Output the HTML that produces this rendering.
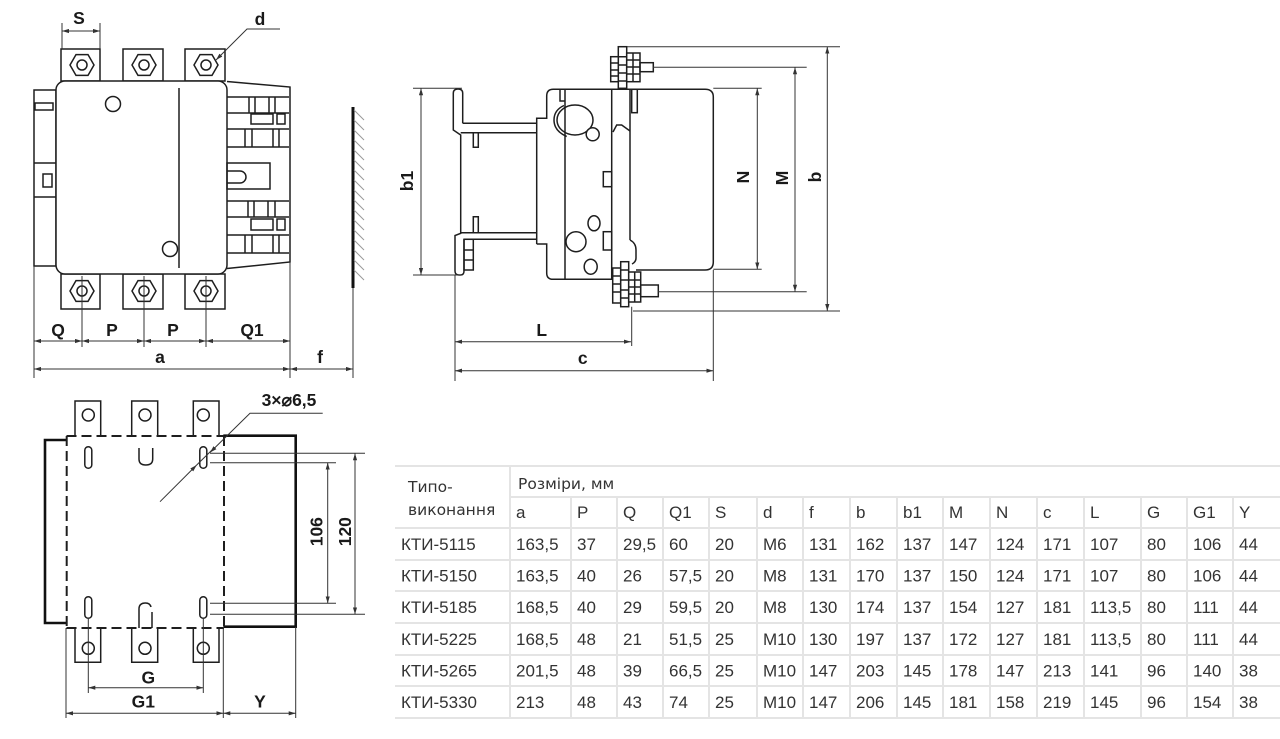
<!DOCTYPE html>
<html><head><meta charset="utf-8"><style>
html,body{margin:0;padding:0;background:#fff;}
svg{display:block;}
.o{stroke:#1e1e1e;stroke-width:1.5;fill:none;}
.t{stroke:#333;stroke-width:1;fill:none;}
.lb{font-family:"Liberation Sans",Arial,sans-serif;font-weight:bold;font-size:17.5px;fill:#1a1a1a;text-anchor:middle;}
.tb{font-family:"Liberation Sans","Noto Sans CJK SC",sans-serif;font-size:17px;fill:#333;}
.th{font-family:"DejaVu Sans","Liberation Sans",sans-serif;font-size:15.5px;fill:#333;}
.g{stroke:#e4e4e4;stroke-width:2;}
</style></head><body>
<svg width="1280" height="739" viewBox="0 0 1280 739" xmlns="http://www.w3.org/2000/svg">
<defs>
<marker id="a" viewBox="0 0 10 6" refX="10" refY="3" markerWidth="7" markerHeight="4.5" markerUnits="userSpaceOnUse" orient="auto-start-reverse"><path d="M0,0 L10,3 L0,6 z" fill="#333"/></marker>
</defs>

<!-- ============ TOP VIEW ============ -->
<g class="o">
 <rect x="61" y="49" width="39" height="32"/>
 <rect x="123" y="49" width="40" height="32"/>
 <rect x="185" y="49" width="40" height="32"/>
 <polygon points="70,65 76,54.6 88,54.6 94,65 88,75.4 76,75.4"/>
 <polygon points="132,65 138,54.6 150,54.6 156,65 150,75.4 138,75.4"/>
 <polygon points="194,65 200,54.6 212,54.6 218,65 212,75.4 200,75.4"/>
 <circle cx="82" cy="65" r="5"/><circle cx="144" cy="65" r="5"/><circle cx="206" cy="65" r="5"/>
 <rect x="61" y="274" width="39" height="35"/>
 <rect x="123" y="274" width="40" height="35"/>
 <rect x="185" y="274" width="40" height="35"/>
 <polygon points="70,291 76,280.6 88,280.6 94,291 88,301.4 76,301.4"/>
 <polygon points="132,291 138,280.6 150,280.6 156,291 150,301.4 138,301.4"/>
 <polygon points="194,291 200,280.6 212,280.6 218,291 212,301.4 200,301.4"/>
 <circle cx="82" cy="291" r="5"/><circle cx="144" cy="291" r="5"/><circle cx="206" cy="291" r="5"/>
 <rect x="34" y="90" width="22" height="176"/>
 <line x1="34" y1="163" x2="56" y2="163"/><line x1="34" y1="197" x2="56" y2="197"/>
 <rect x="35" y="103" width="18" height="7"/>
 <rect x="43" y="174" width="9" height="13"/>
 <rect x="56" y="81" width="171" height="193" rx="9" fill="#fff"/>
 <circle cx="113" cy="104" r="7.5"/><circle cx="170" cy="249" r="7.5"/>
 <line x1="179" y1="88" x2="179" y2="268"/>
 <path d="M227,81.5 L290,87 L290,262 L227,268.5"/>
 <path d="M227,97 H289 M227,113 H289 M227,129 H289 M227,147 H289 M227,201 H289 M227,217 H289 M227,235 H289 M227,253 H289"/>
 <path d="M249,97 V113 M255,97 V113 M269,97 V113 M275,97 V113"/>
 <rect x="251" y="114" width="22" height="10"/><rect x="277" y="114" width="8" height="10"/>
 <path d="M245,129 V147 M252,129 V147 M273,129 V147 M279,129 V147"/>
 <rect x="227" y="163" width="43" height="26"/>
 <path d="M227,171 H240 A6,6 0 0 1 240,183 H227"/>
 <path d="M248,201 V217 M254,201 V217 M268,201 V217 M275,201 V217"/>
 <rect x="251" y="219" width="22" height="11"/><rect x="277" y="219" width="8" height="11"/>
 <path d="M245,235 V253 M252,235 V253 M273,235 V253 M279,235 V253"/>
</g>
<line x1="353" y1="107" x2="353" y2="288" stroke="#111" stroke-width="3"/>
<g stroke="#999" stroke-width="1">
 <path d="M354,110 l10,10 M354,120 l10,10 M354,130 l10,10 M354,140 l10,10 M354,150 l10,10 M354,160 l10,10 M354,170 l10,10 M354,180 l10,10 M354,190 l10,10 M354,200 l10,10 M354,210 l10,10 M354,220 l10,10 M354,230 l10,10 M354,240 l10,10 M354,250 l10,10 M354,260 l10,10 M354,270 l10,10"/>
</g>
<g class="t">
 <path d="M62,23 V49 M100,23 V49"/>
 <line x1="62" y1="31" x2="100" y2="31" marker-start="url(#a)" marker-end="url(#a)"/>
 <path d="M280,29 H247 L216,60" marker-end="url(#a)"/>
 <path d="M34,266 V378 M290,262 V378 M353,288 V378 M82,276 V347 M144,276 V347 M206,276 V347"/>
 <line x1="34" y1="341" x2="82" y2="341" marker-start="url(#a)" marker-end="url(#a)"/>
 <line x1="82" y1="341" x2="144" y2="341" marker-start="url(#a)" marker-end="url(#a)"/>
 <line x1="144" y1="341" x2="206" y2="341" marker-start="url(#a)" marker-end="url(#a)"/>
 <line x1="206" y1="341" x2="290" y2="341" marker-start="url(#a)" marker-end="url(#a)"/>
 <line x1="34" y1="369" x2="290" y2="369" marker-start="url(#a)" marker-end="url(#a)"/>
 <line x1="290" y1="369" x2="353" y2="369" marker-start="url(#a)" marker-end="url(#a)"/>
</g>
<text class="lb" x="79" y="24">S</text>
<text class="lb" x="260" y="25">d</text>
<text class="lb" x="58" y="336">Q</text>
<text class="lb" x="112" y="336">P</text>
<text class="lb" x="173" y="336">P</text>
<text class="lb" x="252" y="336">Q1</text>
<text class="lb" x="160" y="363">a</text>
<text class="lb" x="320" y="363">f</text>

<!-- ============ SIDE VIEW ============ -->
<g class="o">
 <path d="M462.7,123.3 V93 Q462.7,89 458,89 Q453.3,89 453.3,93 V130 L460.7,135 V233.3 L455,235.5 V271 Q455,275 459,275 H460.5 Q464,275 464,271 V239.3"/>
 <rect x="464" y="239.3" width="9.3" height="30.7"/>
 <path d="M464,250 H473.3 M464,260 H473.3"/>
 <path d="M462.7,123.3 H536.7 M460.7,132.7 H536.7 M460.7,232.7 H536.7 M464,239.3 H536.7"/>
 <path d="M473.3,132.7 V147.3 H478.3 V132.7 M473.3,232.7 V216.7 H478.3 V232.7"/>
 <path d="M536.7,244 V118.3 H546.7 V96 Q546.7,89.3 553.3,89.3 H705 Q713.3,89.3 713.3,97 V262 Q713.3,270 705,270 H636"/>
 <path d="M536.7,244 H546.7 V273 Q546.7,279.3 553,279.3 H612"/>
 <path d="M565,89.3 V279.3 M611.7,89.3 V279.3 M630,89.3 V240"/>
 <path d="M560,89.3 V101 H565"/>
 <rect x="631.7" y="89.3" width="5.6" height="23.4"/>
 <path d="M613,132 L616.7,125 H621.7 L630,131"/>
 <path d="M630,240 Q636,243 636,250 V258 Q636,262 632,264"/>
 <rect x="603.3" y="171.7" width="8.4" height="15"/>
 <rect x="603.3" y="231.7" width="8.4" height="18.3"/>
 <ellipse cx="575" cy="120" rx="18" ry="15"/>
 <path d="M564,105.5 Q554,110 554,120 Q554,131 566.7,136.5"/>
 <circle cx="592.7" cy="134.3" r="6.5" fill="#fff"/>
 <ellipse cx="594" cy="223.3" rx="6" ry="7.5"/>
 <circle cx="576" cy="241.7" r="10"/>
 <ellipse cx="590.7" cy="266.7" rx="6.5" ry="7.5"/>
 <rect x="618.3" y="46.7" width="8.4" height="41.6" fill="#fff"/>
 <rect x="610.7" y="56.7" width="7.6" height="25" fill="#fff"/>
 <path d="M610.7,63 H618.3 M610.7,70 H618.3 M610.7,76 H618.3 M618.3,56.7 H626.7 M618.3,65 H626.7 M618.3,73 H626.7 M618.3,81 H626.7"/>
 <rect x="626.7" y="53" width="13.3" height="28.7" fill="#fff"/>
 <path d="M626.7,60 H640 M626.7,67 H640 M626.7,74 H640 M633,53 V81.7"/>
 <rect x="640" y="62.7" width="13.3" height="9"/>
 <rect x="612.7" y="268" width="8" height="35" fill="#fff"/>
 <rect x="620.7" y="261.7" width="8" height="45" fill="#fff"/>
 <rect x="628.7" y="272" width="12" height="30" fill="#fff"/>
 <path d="M612.7,276 H620.7 M612.7,284 H620.7 M612.7,292 H620.7 M620.7,270 H628.7 M620.7,280 H628.7 M620.7,290 H628.7 M620.7,298 H628.7 M628.7,280 H640.7 M628.7,287 H640.7 M628.7,294 H640.7 M634.7,272 V302"/>
 <rect x="640.7" y="285" width="17.6" height="11.7"/>
</g>
<g class="t">
 <path d="M413,88.3 H462 M413,275 H462"/>
 <line x1="421" y1="88.3" x2="421" y2="275" marker-start="url(#a)" marker-end="url(#a)"/>
 <path d="M627,46.7 H840 M653,67.3 H806.7 M713.3,88.3 H761.7 M713.3,269.3 H761.7 M658,291.7 H806.7 M633,311 H840"/>
 <line x1="757.3" y1="88.3" x2="757.3" y2="269.3" marker-start="url(#a)" marker-end="url(#a)"/>
 <line x1="795" y1="67.3" x2="795" y2="291.7" marker-start="url(#a)" marker-end="url(#a)"/>
 <line x1="827.3" y1="46.7" x2="827.3" y2="311" marker-start="url(#a)" marker-end="url(#a)"/>
 <path d="M455,275 V381 M713.3,270 V381 M631.7,306.7 V346"/>
 <line x1="455" y1="341.7" x2="631" y2="341.7" marker-start="url(#a)" marker-end="url(#a)"/>
 <line x1="455" y1="370.7" x2="713.3" y2="370.7" marker-start="url(#a)" marker-end="url(#a)"/>
</g>
<text class="lb" transform="translate(413,181) rotate(-90)">b1</text>
<text class="lb" transform="translate(749,177) rotate(-90)">N</text>
<text class="lb" transform="translate(788,178) rotate(-90)">M</text>
<text class="lb" transform="translate(821,177) rotate(-90)">b</text>
<text class="lb" x="541.7" y="336">L</text>
<text class="lb" x="582.7" y="364">c</text>

<!-- ============ BOTTOM VIEW ============ -->
<g class="o">
 <path d="M75,436 V401 H100.7 V436 M131.7,436 V401 H157.7 V436 M193.3,436 V401 H219 V436"/>
 <path d="M75,628 V662.3 H100.7 V628 M131.7,628 V662.3 H157.7 V628 M193.3,628 V662.3 H219 V628"/>
 <circle cx="88.3" cy="415" r="6"/><circle cx="145" cy="415" r="6"/><circle cx="203.3" cy="415" r="6"/>
 <circle cx="88.3" cy="648.3" r="6"/><circle cx="145" cy="648.3" r="6"/><circle cx="203.3" cy="648.3" r="6"/>
 <rect x="84.8" y="446.7" width="7" height="21.6" rx="3.5"/>
 <rect x="199.8" y="446.7" width="7" height="21.6" rx="3.5"/>
 <rect x="84.8" y="596.7" width="7" height="21.6" rx="3.5"/>
 <rect x="199.8" y="596.7" width="7" height="21.6" rx="3.5"/>
 <path d="M139,448 V459 Q139,465 145.8,465 Q152.7,465 152.7,459 V448"/>
 <path d="M139,628 V609 Q139,603 145.5,603 Q150,603 151,607 M152,612 V628"/>
</g>
<path d="M66,440 H45 V623 H66" stroke="#111" stroke-width="2.6" fill="none"/>
<path d="M223.3,435.7 H295.7 V626.7 H223.3" stroke="#111" stroke-width="2.6" fill="none"/>
<g stroke="#1e1e1e" stroke-width="2" fill="none" stroke-dasharray="10 5">
 <path d="M66.5,436 H224"/>
 <path d="M66.5,628 H224"/>
 <path d="M66.7,436 V628"/>
 <path d="M224,436 V627"/>
</g>
<g class="t">
 <path d="M210,453.3 H365 M210,462.7 H336 M210,603.3 H336 M210,614.3 H365"/>
 <line x1="327.7" y1="462.7" x2="327.7" y2="603.3" marker-start="url(#a)" marker-end="url(#a)"/>
 <line x1="355" y1="453.3" x2="355" y2="614.3" marker-start="url(#a)" marker-end="url(#a)"/>
 <path d="M322.7,413.3 H250 L210,452.5" marker-end="url(#a)"/>
 <line x1="160" y1="501.7" x2="196.7" y2="465" marker-end="url(#a)"/>
 <line x1="196.7" y1="465" x2="212" y2="450"/>
 <path d="M88.3,618 V693 M203.3,618 V693 M66,628 V718 M223.3,627 V718 M295.7,627 V718"/>
 <line x1="88.3" y1="687.7" x2="203.3" y2="687.7" marker-start="url(#a)" marker-end="url(#a)"/>
 <line x1="66" y1="713.3" x2="223.3" y2="713.3" marker-start="url(#a)" marker-end="url(#a)"/>
 <line x1="223.3" y1="713.3" x2="295.7" y2="713.3" marker-start="url(#a)" marker-end="url(#a)"/>
</g>
<text class="lb" x="289" y="406">3×⌀6,5</text>
<text class="lb" transform="translate(322.7,531.7) rotate(-90)">106</text>
<text class="lb" transform="translate(351,531.7) rotate(-90)">120</text>
<text class="lb" x="148.3" y="683.5">G</text>
<text class="lb" x="143.3" y="707.5">G1</text>
<text class="lb" x="260" y="707.5">Y</text>

<!-- ============ TABLE ============ -->
<g class="g">
 <line x1="395" y1="466" x2="1280" y2="466"/>
 <line x1="510" y1="497" x2="1280" y2="497"/>
 <line x1="395" y1="528" x2="1280" y2="528"/>
 <line x1="395" y1="560" x2="1280" y2="560"/>
 <line x1="395" y1="591" x2="1280" y2="591"/>
 <line x1="395" y1="623" x2="1280" y2="623"/>
 <line x1="395" y1="655" x2="1280" y2="655"/>
 <line x1="395" y1="686" x2="1280" y2="686"/>
 <line x1="395" y1="718" x2="1280" y2="718"/>
 <line x1="510" y1="466" x2="510" y2="718"/>
 <path d="M571,497 V718 M617,497 V718 M663,497 V718 M709,497 V718 M757,497 V718 M803,497 V718 M850,497 V718 M897,497 V718 M943,497 V718 M990,497 V718 M1037,497 V718 M1084,497 V718 M1141,497 V718 M1187,497 V718 M1233,497 V718"/>
</g>
<text class="th" x="408" y="492">Типо-</text>
<text class="th" x="408" y="515">виконання</text>
<text class="th" x="518" y="489">Розміри, мм</text>
<text class="tb" y="518"><tspan x="516">a</tspan><tspan x="577">P</tspan><tspan x="623">Q</tspan><tspan x="669">Q1</tspan><tspan x="715">S</tspan><tspan x="763">d</tspan><tspan x="809">f</tspan><tspan x="856">b</tspan><tspan x="903">b1</tspan><tspan x="949">M</tspan><tspan x="996">N</tspan><tspan x="1043">c</tspan><tspan x="1090">L</tspan><tspan x="1147">G</tspan><tspan x="1193">G1</tspan><tspan x="1239">Y</tspan></text>
<text class="tb" y="550"><tspan x="401">КТИ-5115</tspan><tspan x="516">163,5</tspan><tspan x="577">37</tspan><tspan x="623">29,5</tspan><tspan x="669">60</tspan><tspan x="715">20</tspan><tspan x="763">M6</tspan><tspan x="809">131</tspan><tspan x="856">162</tspan><tspan x="903">137</tspan><tspan x="949">147</tspan><tspan x="996">124</tspan><tspan x="1043">171</tspan><tspan x="1090">107</tspan><tspan x="1147">80</tspan><tspan x="1193">106</tspan><tspan x="1239">44</tspan></text>
<text class="tb" y="581.5"><tspan x="401">КТИ-5150</tspan><tspan x="516">163,5</tspan><tspan x="577">40</tspan><tspan x="623">26</tspan><tspan x="669">57,5</tspan><tspan x="715">20</tspan><tspan x="763">M8</tspan><tspan x="809">131</tspan><tspan x="856">170</tspan><tspan x="903">137</tspan><tspan x="949">150</tspan><tspan x="996">124</tspan><tspan x="1043">171</tspan><tspan x="1090">107</tspan><tspan x="1147">80</tspan><tspan x="1193">106</tspan><tspan x="1239">44</tspan></text>
<text class="tb" y="613"><tspan x="401">КТИ-5185</tspan><tspan x="516">168,5</tspan><tspan x="577">40</tspan><tspan x="623">29</tspan><tspan x="669">59,5</tspan><tspan x="715">20</tspan><tspan x="763">M8</tspan><tspan x="809">130</tspan><tspan x="856">174</tspan><tspan x="903">137</tspan><tspan x="949">154</tspan><tspan x="996">127</tspan><tspan x="1043">181</tspan><tspan x="1090">113,5</tspan><tspan x="1147">80</tspan><tspan x="1193">111</tspan><tspan x="1239">44</tspan></text>
<text class="tb" y="645"><tspan x="401">КТИ-5225</tspan><tspan x="516">168,5</tspan><tspan x="577">48</tspan><tspan x="623">21</tspan><tspan x="669">51,5</tspan><tspan x="715">25</tspan><tspan x="763">M10</tspan><tspan x="809">130</tspan><tspan x="856">197</tspan><tspan x="903">137</tspan><tspan x="949">172</tspan><tspan x="996">127</tspan><tspan x="1043">181</tspan><tspan x="1090">113,5</tspan><tspan x="1147">80</tspan><tspan x="1193">111</tspan><tspan x="1239">44</tspan></text>
<text class="tb" y="676.5"><tspan x="401">КТИ-5265</tspan><tspan x="516">201,5</tspan><tspan x="577">48</tspan><tspan x="623">39</tspan><tspan x="669">66,5</tspan><tspan x="715">25</tspan><tspan x="763">M10</tspan><tspan x="809">147</tspan><tspan x="856">203</tspan><tspan x="903">145</tspan><tspan x="949">178</tspan><tspan x="996">147</tspan><tspan x="1043">213</tspan><tspan x="1090">141</tspan><tspan x="1147">96</tspan><tspan x="1193">140</tspan><tspan x="1239">38</tspan></text>
<text class="tb" y="708"><tspan x="401">КТИ-5330</tspan><tspan x="516">213</tspan><tspan x="577">48</tspan><tspan x="623">43</tspan><tspan x="669">74</tspan><tspan x="715">25</tspan><tspan x="763">M10</tspan><tspan x="809">147</tspan><tspan x="856">206</tspan><tspan x="903">145</tspan><tspan x="949">181</tspan><tspan x="996">158</tspan><tspan x="1043">219</tspan><tspan x="1090">145</tspan><tspan x="1147">96</tspan><tspan x="1193">154</tspan><tspan x="1239">38</tspan></text>
</svg>
</body></html>
